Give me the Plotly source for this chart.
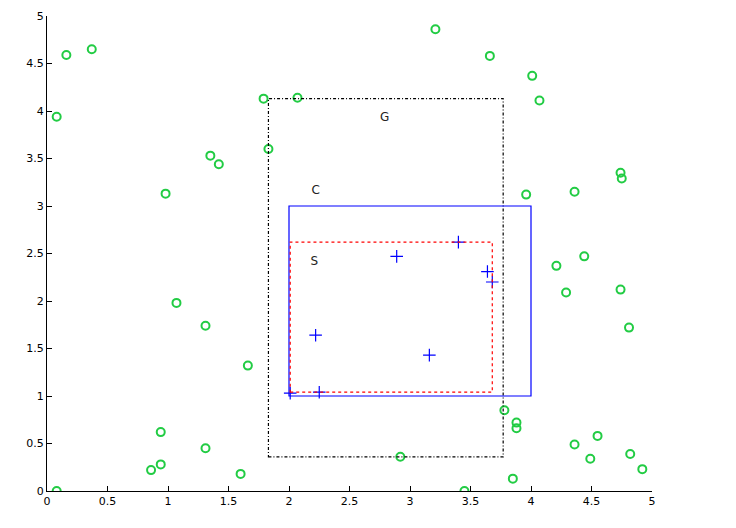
import plotly.graph_objects as go

# green circles (outside points)
circ_x = [0.08, 0.08, 0.16, 0.37, 0.98, 1.07, 1.31, 1.35, 1.42, 0.94, 0.94, 0.86, 1.31, 1.60, 1.66,
          1.79, 1.83, 2.07, 2.92, 3.21, 3.45, 3.66, 3.78, 3.88, 3.88, 3.85, 3.96, 4.01, 4.07, 4.21,
          4.29, 4.36, 4.44, 4.36, 4.49, 4.55, 4.74, 4.75, 4.74, 4.81, 4.82, 4.92]
circ_y = [0.0, 3.94, 4.59, 4.65, 3.13, 1.98, 1.74, 3.53, 3.44, 0.62, 0.28, 0.22, 0.45, 0.18, 1.32,
          4.13, 3.60, 4.14, 0.36, 4.86, 0.0, 4.58, 0.85, 0.72, 0.66, 0.13, 3.12, 4.37, 4.11, 2.37,
          2.09, 3.15, 2.47, 0.49, 0.34, 0.58, 3.35, 3.29, 2.12, 1.72, 0.39, 0.23]
# blue plus (inside points)
plus_x = [2.01, 2.25, 2.22, 2.89, 3.16, 3.40, 3.64, 3.68]
plus_y = [1.03, 1.04, 1.64, 2.47, 1.43, 2.62, 2.31, 2.20]

# rectangles: (x0, y0, x1, y1)
rect_G = (1.83, 0.36, 3.77, 4.13)
rect_C = (2.0, 1.0, 4.0, 3.0)
rect_S = (2.01, 1.04, 3.68, 2.62)

labels = ["G", "C", "S"]
label_x = [2.79, 2.22, 2.21]
label_y = [3.93, 3.16, 2.41]

fig = go.Figure()
fig.add_trace(go.Scatter(x=circ_x, y=circ_y, mode="markers",
                         marker=dict(symbol="circle-open", size=8, color="#22cc44", line=dict(width=2))))
fig.add_trace(go.Scatter(x=plus_x, y=plus_y, mode="markers",
                         marker=dict(symbol="cross-thin-open", size=9, color="blue", line=dict(width=1.2, color="blue"))))

for r, col, dash in [(rect_G, "black", "3px,2px,1px,2px"), (rect_C, "blue", "solid"), (rect_S, "red", "dot")]:
    fig.add_shape(type="rect", x0=r[0], y0=r[1], x1=r[2], y1=r[3],
                  line=dict(color=col, width=1.2, dash=dash))

fig.add_trace(go.Scatter(x=label_x, y=label_y, mode="text", text=labels,
                         textfont=dict(size=12, color="#222", family="DejaVu Sans")))

axis = dict(range=[0, 5], dtick=0.5, showgrid=False, zeroline=False, showline=True,
            linecolor="black", linewidth=1, ticks="inside", ticklen=5, tickcolor="black",
            automargin=False,
            tickfont=dict(size=11, family="DejaVu Sans", color="black"))
fig.update_layout(
    width=736, height=528, showlegend=False,
    plot_bgcolor="white", paper_bgcolor="white",
    margin=dict(l=39, r=92, t=8, b=45),
    xaxis=axis, yaxis=axis,
)
fig.write_html("out.html")
